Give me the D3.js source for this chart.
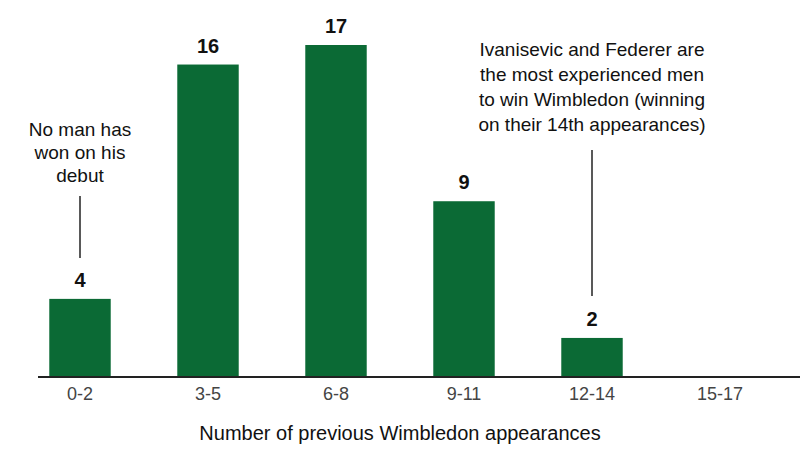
<!DOCTYPE html>
<html lang="en">
<head>
<meta charset="UTF-8">
<script src="https://d3js.org/d3.v7.min.js"></script>
<style>
  body { margin: 0; background: #fff; }
  text { font-family: "Liberation Sans", Arial, sans-serif; }
</style>
</head>
<body>
<script>
  // data
  const categories = ["0-2", "3-5", "6-8", "9-11", "12-14", "15-17"];
  const winners = [4, 16, 17, 9, 2, 0];
  const noteLeft = ["No man has", "won on his", "debut"];
  const noteRight = ["Ivanisevic and Federer are", "the most experienced men",
                     "to win Wimbledon (winning", "on their 14th appearances)"];

  const width = 800, height = 450;
  const svg = d3.select("body").append("svg").attr("width", width).attr("height", height);

  const x = d3.scaleBand().domain(categories).range([16, 784]).paddingInner(0.52).paddingOuter(0.26);
  const y = d3.scaleLinear().domain([0, 17]).range([377, 45]);

  const rows = categories.map((c, i) => ({ c, v: winners[i] })).filter(d => d.v > 0);

  svg.selectAll("rect.bar")
    .data(rows)
    .enter().append("rect")
    .attr("x", d => x(d.c))
    .attr("y", d => y(d.v))
    .attr("width", x.bandwidth())
    .attr("height", d => y(0) - y(d.v))
    .attr("fill", "#0b6a35");

  svg.selectAll("text.val")
    .data(rows)
    .enter().append("text")
    .attr("x", d => x(d.c) + x.bandwidth() / 2)
    .attr("y", d => y(d.v) - 12)
    .attr("text-anchor", "middle")
    .attr("font-size", 20).attr("font-weight", "bold").attr("fill", "#111")
    .text(d => d.v);

  // baseline
  svg.append("line").attr("x1", 38).attr("x2", 800).attr("y1", y(0)).attr("y2", y(0))
    .attr("stroke", "#222").attr("stroke-width", 2);

  const axis = svg.append("g").attr("transform", `translate(0,${y(0)})`)
    .call(d3.axisBottom(x).tickSize(0).tickPadding(10));
  axis.select(".domain").remove();
  axis.attr("font-size", 18);
  axis.selectAll("text").attr("font-size", 18).attr("fill", "#444")
    .style("font-family", "Liberation Sans, Arial, sans-serif");

  svg.append("text").attr("x", 400).attr("y", 440).attr("text-anchor", "middle")
    .attr("font-size", 20).attr("fill", "#111").text("Number of previous Wimbledon appearances");

  // annotations
  const cx0 = x("0-2") + x.bandwidth() / 2;
  svg.append("g").selectAll("text").data(noteLeft).enter().append("text")
    .attr("x", cx0).attr("y", (d, i) => 136 + i * 23).attr("text-anchor", "middle")
    .attr("font-size", 19).attr("fill", "#111").text(d => d);
  svg.append("line").attr("x1", cx0).attr("x2", cx0).attr("y1", 196).attr("y2", 258)
    .attr("stroke", "#222").attr("stroke-width", 1.5);

  const cx4 = x("12-14") + x.bandwidth() / 2;
  svg.append("g").selectAll("text").data(noteRight).enter().append("text")
    .attr("x", cx4).attr("y", (d, i) => 56 + i * 25).attr("text-anchor", "middle")
    .attr("font-size", 19).attr("fill", "#111").text(d => d);
  svg.append("line").attr("x1", cx4).attr("x2", cx4).attr("y1", 150).attr("y2", 296)
    .attr("stroke", "#222").attr("stroke-width", 1.5);
</script>
</body>
</html>
